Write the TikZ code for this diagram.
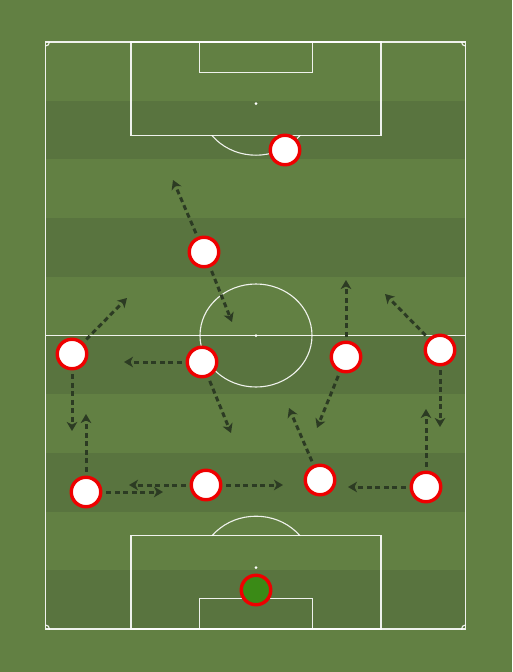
\documentclass[tikz,border=0pt]{standalone}
\usetikzlibrary{arrows.meta,shadows}
\definecolor{grasslight}{HTML}{628043}
\definecolor{grassdark}{HTML}{59743F}
\definecolor{runcolor}{HTML}{2C3B23}
\definecolor{keepergreen}{HTML}{3A8A16}
\definecolor{shirtred}{HTML}{EE0000}
\begin{document}
\begin{tikzpicture}[
        x=1pt, y=-1pt,
        pitchline/.style={draw=white, draw opacity=0.9, line width=1.1pt},
        player/.style={circle, draw=shirtred, line width=3.4pt, fill=white,
                minimum size=29.5pt, inner sep=0pt,
                drop shadow={shadow xshift=0pt, shadow yshift=-1.5pt, opacity=0.3}},
        keeper/.style={player, fill=keepergreen},
        run/.style={draw=runcolor, line width=3pt, dash pattern=on 5pt off 3.5pt,
                -{Stealth[length=9pt, width=10.5pt, inset=2.5pt]}, shorten <=4pt}
    ]
    % grass and stripes
    \fill[grasslight] (0,0) rectangle (512,672);
    \foreach \i in {1,3,...,9}
        \fill[grassdark] (45.5,{42+\i*58.7}) rectangle ++(420,58.7);

    % pitch markings
    \draw[pitchline] (45.5,42) rectangle (465.5,629);
    \draw[pitchline] (45.5,335.5) -- (465.5,335.5);
    \draw[pitchline] (256,335.5) ellipse [x radius=56, y radius=51.5];
    \fill[white] (256,335.5) circle (1.5);
    % top end
    \draw[pitchline] (131,42) rectangle (381,135.3);
    \draw[pitchline] (199.5,42) rectangle (312.5,72.7);
    \fill[white] (256,103.7) circle (1.5);
    \begin{scope}
        \clip (131,135.3) rectangle (381,200);
        \draw[pitchline] (256,103.7) ellipse [x radius=56, y radius=51.5];
    \end{scope}
    % bottom end
    \draw[pitchline] (131,535.7) rectangle (381,629);
    \draw[pitchline] (199.5,598.3) rectangle (312.5,629);
    \fill[white] (256,567.7) circle (1.5);
    \begin{scope}
        \clip (131,470) rectangle (381,535.7);
        \draw[pitchline] (256,567.7) ellipse [x radius=56, y radius=51.5];
    \end{scope}
    % corners
    \begin{scope}
        \clip (45.5,42) rectangle (465.5,629);
        \foreach \cx/\cy in {45.5/42, 465.5/42, 45.5/629, 465.5/629}
            \draw[pitchline] (\cx,\cy) circle (4);
    \end{scope}

    % players
    \node[keeper] (gk)  at (256,590) {};
    \node[player] (dl)  at (86,492)  {};
    \node[player] (dcl) at (206,485) {};
    \node[player] (dcr) at (320,480) {};
    \node[player] (dr)  at (426,487) {};
    \node[player] (ml)  at (72,354)  {};
    \node[player] (mc)  at (202,362) {};
    \node[player] (mcr) at (346,357) {};
    \node[player] (mr)  at (440,350) {};
    \node[player] (am)  at (204,252) {};
    \node[player] (st)  at (285,150) {};

    % run targets
    \coordinate (am-a)  at (173,180);
    \coordinate (am-b)  at (232,322);
    \coordinate (ml-a)  at (127,298);
    \coordinate (ml-b)  at (72,431);
    \coordinate (mc-a)  at (124,362);
    \coordinate (mc-b)  at (231,433);
    \coordinate (dl-a)  at (86,414);
    \coordinate (dl-b)  at (163,492);
    \coordinate (dcl-a) at (129,485);
    \coordinate (dcl-b) at (283,485);
    \coordinate (mcr-a) at (346,280);
    \coordinate (mcr-b) at (317,428);
    \coordinate (mr-a)  at (385,294);
    \coordinate (mr-b)  at (440,427);
    \coordinate (dcr-a) at (289,408);
    \coordinate (dr-a)  at (348,487);
    \coordinate (dr-b)  at (426,409);

    % runs
    \foreach \p/\t in {am/am-a, am/am-b, ml/ml-a, ml/ml-b, mc/mc-a, mc/mc-b,
            dl/dl-a, dl/dl-b, dcl/dcl-a, dcl/dcl-b, mcr/mcr-a, mcr/mcr-b,
            mr/mr-a, mr/mr-b, dcr/dcr-a, dr/dr-a, dr/dr-b}
        \draw[run] (\p) -- (\t);
\end{tikzpicture}
\end{document}
